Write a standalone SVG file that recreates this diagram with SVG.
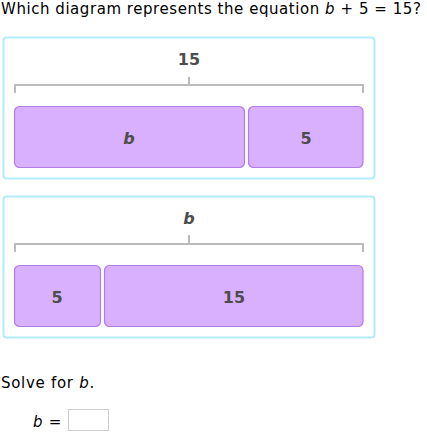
<svg xmlns="http://www.w3.org/2000/svg" width="427" height="433" viewBox="0 0 427 433">
<style>
.t{font-family:"DejaVu Sans",Verdana,sans-serif;font-size:15px;fill:#000;letter-spacing:0.7px}
.lbl{font-family:"DejaVu Sans",Verdana,sans-serif;font-size:16px;font-weight:bold;fill:#4d4d4d;text-anchor:middle}
.card{fill:#fff;stroke:#b3ebfb;stroke-width:2}
.box{fill:#d8b0fd;stroke:#b27cea;stroke-width:1.2}
.br{fill:none;stroke:#bbbbbb;stroke-width:2}
</style>
<rect width="427" height="433" fill="#fff"/>
<text class="t" x="1" y="14" style="letter-spacing:0.55px">Which diagram represents the equation <tspan font-style="italic">b</tspan> + 5 = 15?</text>
<g id="card1">
<rect class="card" x="3.5" y="37.5" width="371" height="141" rx="3"/>
<text class="lbl" x="189" y="65">15</text>
<path class="br" d="M15 93V85H363V93M189 77V85"/>
<g id="c1-b"><rect class="box" x="14.5" y="106.5" width="230" height="61" rx="5"/><text class="lbl" x="129" y="144" font-style="italic">b</text></g>
<g id="c1-5"><rect class="box" x="248.5" y="106.5" width="114.5" height="61" rx="5"/><text class="lbl" x="306" y="144">5</text></g>
</g>
<g id="card2">
<rect class="card" x="3.5" y="196.5" width="371" height="141" rx="3"/>
<text class="lbl" x="189" y="224" font-style="italic">b</text>
<path class="br" d="M15 252V244H363V252M189 235V244"/>
<g id="c2-5"><rect class="box" x="14.5" y="265.5" width="86" height="61" rx="5"/><text class="lbl" x="57" y="303">5</text></g>
<g id="c2-15"><rect class="box" x="104.5" y="265.5" width="258.5" height="61" rx="5"/><text class="lbl" x="234" y="303">15</text></g>
</g>
<g id="connectors"></g>
<text class="t" x="1" y="388">Solve for <tspan font-style="italic">b</tspan>.</text>
<text class="t" x="33" y="427"><tspan font-style="italic">b</tspan> =</text>
<g id="answer"><rect x="68.5" y="409.5" width="40" height="21" fill="#fff" stroke="#cccccc" stroke-width="1"/></g>
</svg>
